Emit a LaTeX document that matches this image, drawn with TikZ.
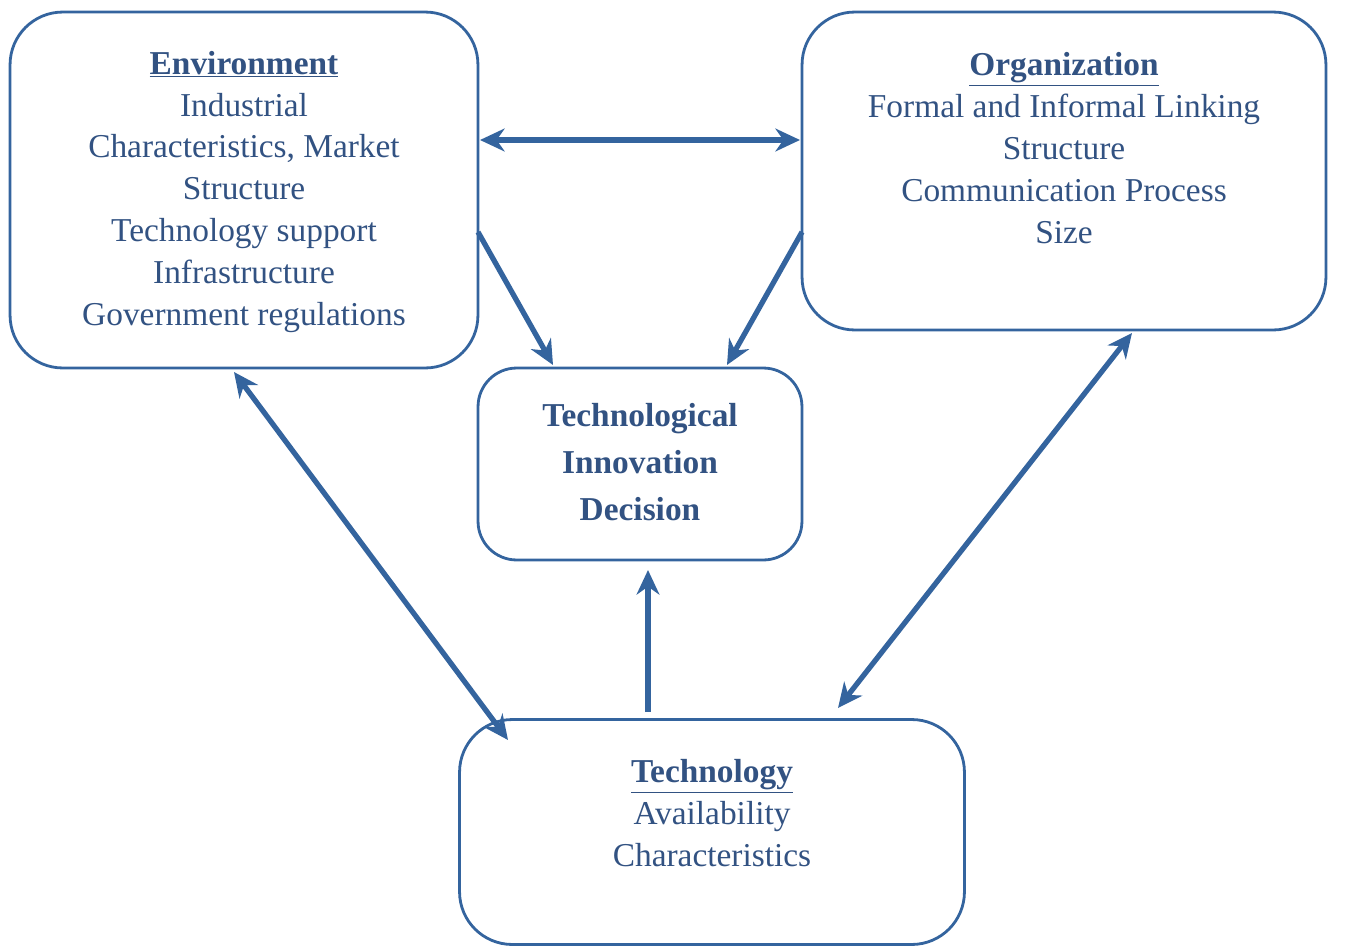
\documentclass[tikz,border=0pt]{standalone}
\usepackage{fontspec}
\setmainfont{Liberation Serif}
\usetikzlibrary{arrows.meta}
\definecolor{boxblue}{RGB}{52,100,158}
\definecolor{txtblue}{RGB}{50,82,130}
\tikzset{
  box/.style={draw=boxblue,line width=1.6pt,rounded corners=30pt},
  txt/.style={text=txtblue,align=center,font=\fontsize{19}{23.9}\selectfont},
  link/.style={draw=boxblue,line width=3pt,-{Stealth[length=14pt,width=13pt]}},
  both/.style={link,{Stealth[length=14pt,width=13pt]}-{Stealth[length=14pt,width=13pt]}}
}
\begin{document}
\begin{tikzpicture}[x=0.02cm,y=-0.02cm]
  \useasboundingbox (0,0) rectangle (1350,947);
  % boxes
  \node[box,minimum width=9.36cm,minimum height=7.12cm] (env) at (244,190) {};
  \node[box,minimum width=10.48cm,minimum height=6.36cm] (org) at (1064,171) {};
  \node[box,rounded corners=22pt,minimum width=6.48cm,minimum height=3.84cm] (tid) at (640,464) {};
  \node[box,minimum width=10.1cm,minimum height=4.5cm] (tech) at (712,832) {};
  % texts
  \node[txt] (envtext) at (244,192) {\textbf{\underline{Environment}}\\Industrial\\Characteristics, Market\\Structure\\Technology support\\Infrastructure\\Government regulations};
  \node[txt] (orgtext) at (1064,148) {\textbf{\underline{Organization}}\\Formal and Informal Linking\\Structure\\Communication Process\\Size};
  \node[txt,font=\bfseries\fontsize{19}{26.7}\selectfont] (tidtext) at (640,462) {Technological\\Innovation\\Decision};
  \node[txt] (techtext) at (712,813) {\textbf{\underline{Technology}}\\Availability\\Characteristics};
  % connector ends
  \coordinate (e1) at (480,140);  \coordinate (o1) at (800,140);
  \coordinate (e2) at (478,232);  \coordinate (t2) at (553,365);
  \coordinate (o3) at (802,232);  \coordinate (t3) at (727,365);
  \coordinate (e4) at (234,372);  \coordinate (k4) at (508,740);
  \coordinate (o5) at (1132,333); \coordinate (k5) at (838,708);
  \coordinate (k6) at (648,712);  \coordinate (t6) at (648,570);
  % arrows
  \draw[both] (e1) -- (o1);
  \draw[link] (e2) -- (t2);
  \draw[link] (o3) -- (t3);
  \draw[both] (e4) -- (k4);
  \draw[both] (o5) -- (k5);
  \draw[link] (k6) -- (t6);
\end{tikzpicture}
\end{document}
